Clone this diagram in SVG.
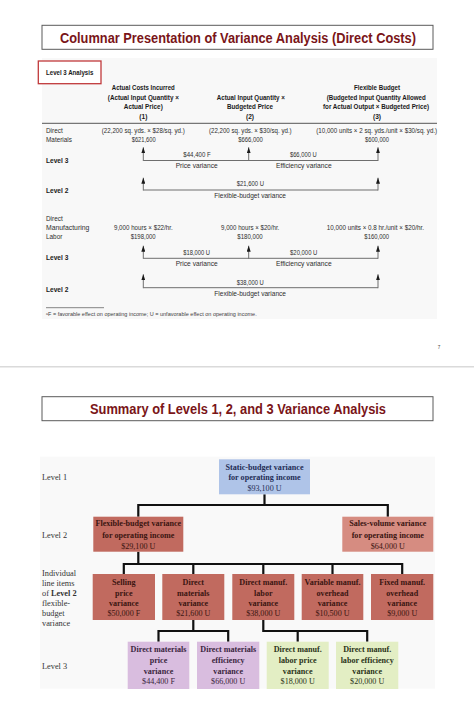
<svg xmlns="http://www.w3.org/2000/svg" width="474" height="711" viewBox="0 0 474 711">
<style>
.title{font-family:"Liberation Sans Narrow","Liberation Sans",Arial,sans-serif;font-weight:bold;font-size:14.5px;fill:#7a1518;text-anchor:middle}
.h{font-family:"Liberation Sans Narrow","Liberation Sans",Arial,sans-serif;font-weight:bold;font-size:6.6px;fill:#1a1a1a;text-anchor:middle}
.r{font-family:"Liberation Sans Narrow","Liberation Sans",Arial,sans-serif;font-size:6.4px;fill:#2e2e2e;text-anchor:middle}
.rl{font-family:"Liberation Sans Narrow","Liberation Sans",Arial,sans-serif;font-size:6.4px;fill:#2e2e2e}
.lv{font-family:"Liberation Sans Narrow","Liberation Sans",Arial,sans-serif;font-weight:bold;font-size:6.6px;fill:#1a1a1a}
.fn{font-family:"Liberation Sans Narrow","Liberation Sans",Arial,sans-serif;font-size:4.6px;fill:#444}
.al{stroke:#6e6e6e;stroke-width:1;fill:none}
.av{stroke:#6e6e6e;stroke-width:1;fill:none;marker-end:url(#ah)}
.sl{font-family:"Liberation Serif","DejaVu Serif",serif;font-size:8.3px;fill:#333333}
.b{font-family:"Liberation Serif","DejaVu Serif",serif;font-size:8.1px;text-anchor:middle;font-weight:bold}
.v{font-family:"Liberation Serif","DejaVu Serif",serif;font-size:8.1px;text-anchor:middle}
.blue{fill:#afc4e8}
.red{fill:#c16a5f}
.red2{fill:#d68c81}
.pur{fill:#d9bddf}
.grn{fill:#e3eec4}
.tb{fill:#1f2d55}
.tr{fill:#3a1511}
.tp{fill:#3a2540}
.tg{fill:#2a3318}
.conn{stroke:#111111;stroke-width:2.2;fill:none}
</style>
<defs>
<marker id="ah" viewBox="0 0 6 4" markerWidth="6" markerHeight="4" refX="6" refY="2" orient="auto" markerUnits="userSpaceOnUse">
<path d="M0,0 L6,2 L0,4 z" fill="#1a1a1a"/>
</marker>
</defs>
<rect width="474" height="711" fill="#ffffff"/>

<!-- Slide 1 -->
<g id="slide1">
<rect x="42" y="58" width="395" height="261" fill="#f8f8f8"/>
<g id="title1">
<rect x="42" y="25.3" width="391" height="24" fill="#ffffff" stroke="#5a5a5a" stroke-width="1"/>
<text class="title" x="238" y="42.7" textLength="356" lengthAdjust="spacingAndGlyphs">Columnar Presentation of Variance Analysis (Direct Costs)</text>
</g>
<g id="level3analysis">
<rect x="38.3" y="61" width="62.7" height="22.7" fill="#ffffff" stroke="#c0393b" stroke-width="1.3"/>
<text class="lv" x="46" y="75" textLength="47.3" lengthAdjust="spacingAndGlyphs">Level 3 Analysis</text>
</g>
<g id="col1-header">
<text class="h" x="143.3" y="90" textLength="63" lengthAdjust="spacingAndGlyphs">Actual Costs Incurred</text>
<text class="h" x="143.3" y="99.6" textLength="71" lengthAdjust="spacingAndGlyphs">(Actual Input Quantity ×</text>
<text class="h" x="143.3" y="109.3" textLength="39" lengthAdjust="spacingAndGlyphs">Actual Price)</text>
<text class="h" x="143.3" y="119.3">(1)</text>
</g>
<g id="col2-header">
<text class="h" x="250.8" y="99.6" textLength="68" lengthAdjust="spacingAndGlyphs">Actual Input Quantity ×</text>
<text class="h" x="250" y="109.3" textLength="46" lengthAdjust="spacingAndGlyphs">Budgeted Price</text>
<text class="h" x="250" y="119.3">(2)</text>
</g>
<g id="col3-header">
<text class="h" x="377" y="90" textLength="46" lengthAdjust="spacingAndGlyphs">Flexible Budget</text>
<text class="h" x="376.3" y="99.6" textLength="99" lengthAdjust="spacingAndGlyphs">(Budgeted Input Quantity Allowed</text>
<text class="h" x="376" y="109.3" textLength="106" lengthAdjust="spacingAndGlyphs">for Actual Output × Budgeted Price)</text>
<text class="h" x="377" y="119.3">(3)</text>
</g>
<line x1="42" y1="123.3" x2="437" y2="123.3" stroke="#555" stroke-width="1"/>

<g id="dm-row">
<text class="rl" x="46" y="133">Direct</text>
<text class="rl" x="46" y="141.5">Materials</text>
<text class="r" x="143.3" y="133" textLength="83" lengthAdjust="spacingAndGlyphs">(22,200 sq. yds. × $28/sq. yd.)</text>
<text class="r" x="143.7" y="141.5" textLength="24" lengthAdjust="spacingAndGlyphs">$621,600</text>
<text class="r" x="250.3" y="133" textLength="82.7" lengthAdjust="spacingAndGlyphs">(22,200 sq. yds. × $30/sq. yd.)</text>
<text class="r" x="250.5" y="141.5" textLength="24.7" lengthAdjust="spacingAndGlyphs">$666,000</text>
<text class="r" x="376.7" y="133" textLength="121" lengthAdjust="spacingAndGlyphs">(10,000 units × 2 sq. yds./unit × $30/sq. yd.)</text>
<text class="r" x="377" y="141.5" textLength="24" lengthAdjust="spacingAndGlyphs">$600,000</text>
</g>
<g id="dm-level3">
<text class="lv" x="46" y="163">Level 3</text>
<text class="r" x="197" y="156.5" textLength="27.3" lengthAdjust="spacingAndGlyphs">$44,400 F</text>
<text class="r" x="303.3" y="156.5" textLength="26.7" lengthAdjust="spacingAndGlyphs">$66,000 U</text>
<text class="r" x="196.7" y="168.3" textLength="42" lengthAdjust="spacingAndGlyphs">Price variance</text>
<text class="r" x="303.8" y="168.3" textLength="55.7" lengthAdjust="spacingAndGlyphs">Efficiency variance</text>
</g>
<g id="dm-level2">
<text class="lv" x="46" y="192.5">Level 2</text>
<text class="r" x="250.3" y="186.3" textLength="27.3" lengthAdjust="spacingAndGlyphs">$21,600 U</text>
<text class="r" x="250.2" y="198.3" textLength="71.7" lengthAdjust="spacingAndGlyphs">Flexible-budget variance</text>
</g>

<g id="dml-row">
<text class="rl" x="46" y="220.6">Direct</text>
<text class="rl" x="46" y="229.6" textLength="43.3" lengthAdjust="spacingAndGlyphs">Manufacturing</text>
<text class="rl" x="46" y="239">Labor</text>
<text class="r" x="143.3" y="229.6" textLength="58.7" lengthAdjust="spacingAndGlyphs">9,000 hours × $22/hr.</text>
<text class="r" x="143.2" y="239" textLength="25" lengthAdjust="spacingAndGlyphs">$198,000</text>
<text class="r" x="250.2" y="229.6" textLength="58.3" lengthAdjust="spacingAndGlyphs">9,000 hours × $20/hr.</text>
<text class="r" x="250" y="239" textLength="25.4" lengthAdjust="spacingAndGlyphs">$180,000</text>
<text class="r" x="375.3" y="229.6" textLength="97.3" lengthAdjust="spacingAndGlyphs">10,000 units × 0.8 hr./unit × $20/hr.</text>
<text class="r" x="376.7" y="239" textLength="24.7" lengthAdjust="spacingAndGlyphs">$160,000</text>
</g>
<g id="dml-level3">
<text class="lv" x="46" y="259.7">Level 3</text>
<text class="r" x="196.7" y="255" textLength="26.7" lengthAdjust="spacingAndGlyphs">$18,000 U</text>
<text class="r" x="303.7" y="255" textLength="27.3" lengthAdjust="spacingAndGlyphs">$20,000 U</text>
<text class="r" x="196.7" y="265.6" textLength="42" lengthAdjust="spacingAndGlyphs">Price variance</text>
<text class="r" x="303.8" y="265.6" textLength="55.7" lengthAdjust="spacingAndGlyphs">Efficiency variance</text>
</g>
<g id="dml-level2">
<text class="lv" x="46" y="291.6">Level 2</text>
<text class="r" x="250.3" y="284.6" textLength="27" lengthAdjust="spacingAndGlyphs">$38,000 U</text>
<text class="r" x="250.2" y="295.6" textLength="71.7" lengthAdjust="spacingAndGlyphs">Flexible-budget variance</text>
</g>

<g id="variance-arrows">
<line class="al" x1="143.3" y1="160.5" x2="378" y2="160.5"/>
<line class="av" x1="143.3" y1="161" x2="143.3" y2="147.3"/>
<line class="av" x1="248.7" y1="161" x2="248.7" y2="147.3"/>
<line class="av" x1="378" y1="161" x2="378" y2="147.3"/>
<line class="al" x1="143.3" y1="190" x2="378" y2="190"/>
<line class="av" x1="143.3" y1="190.5" x2="143.3" y2="177.7"/>
<line class="av" x1="378" y1="190.5" x2="378" y2="177.7"/>
<line class="al" x1="143.3" y1="258.3" x2="378" y2="258.3"/>
<line class="av" x1="143.3" y1="258.8" x2="143.3" y2="245.7"/>
<line class="av" x1="248.7" y1="258.8" x2="248.7" y2="245.7"/>
<line class="av" x1="378" y1="258.8" x2="378" y2="245.7"/>
<line class="al" x1="143.3" y1="287.7" x2="378" y2="287.7"/>
<line class="av" x1="143.3" y1="288.2" x2="143.3" y2="274.3"/>
<line class="av" x1="378" y1="288.2" x2="378" y2="274.3"/>
</g>

<line x1="46" y1="307.7" x2="104" y2="307.7" stroke="#666" stroke-width="0.8"/>
<text class="fn" x="46" y="316" textLength="210.7" lengthAdjust="spacingAndGlyphs"><tspan font-size="3px" dy="-1.5">a</tspan><tspan dy="1.5">F = favorable effect on operating income; U = unfavorable effect on operating income.</tspan></text>
<text class="fn" x="439" y="348.5" text-anchor="middle" fill="#666">7</text>
</g>

<line x1="0" y1="366.7" x2="474" y2="366.7" stroke="#dadada" stroke-width="1.5"/>

<!-- Slide 2 -->
<g id="slide2">
<rect x="40" y="456.7" width="395" height="232" fill="#f9f9f9"/>
<g id="title2">
<rect x="42" y="396.7" width="391" height="24" fill="#ffffff" stroke="#5a5a5a" stroke-width="1"/>
<text class="title" x="238" y="414.3" textLength="296" lengthAdjust="spacingAndGlyphs">Summary of Levels 1, 2, and 3 Variance Analysis</text>
</g>
<g id="level-labels">
<text class="sl" x="42" y="480">Level 1</text>
<text class="sl" x="42" y="538">Level 2</text>
<text class="sl" x="42" y="576.3">Individual</text>
<text class="sl" x="42" y="586.3">line items</text>
<text class="sl" x="42" y="596.3">of <tspan font-weight="bold">Level 2</tspan></text>
<text class="sl" x="42" y="606.3">flexible-</text>
<text class="sl" x="42" y="616">budget</text>
<text class="sl" x="42" y="625.7">variance</text>
<text class="sl" x="42" y="669">Level 3</text>
</g>

<g id="connectors">
<path class="conn" d="M264.5,494.3 V505 M138.3,505 H387.8 M138.3,504 V516.7 M387.8,504 V516.7"/>
<path class="conn" d="M138.3,551.7 V564 M123.8,564 H402.2 M123.8,563 V574 M193.3,563 V574 M263.3,563 V574 M332.5,563 V574 M402.2,563 V574"/>
<path class="conn" d="M193.3,620 V631 M158.5,631 H228.2 M158.5,630 V641.7 M228.2,630 V641.7"/>
<path class="conn" d="M263.3,620 V631 H367.2 M297.7,630 V641.7 M367.2,630 V641.7"/>
</g>

<g id="static-budget">
<rect class="blue" x="219" y="459.3" width="91" height="35"/>
<text class="b tb" x="264.5" y="469.7">Static-budget variance</text>
<text class="b tb" x="264.5" y="480.3">for operating income</text>
<text class="v tb" x="264.5" y="491">$93,100 U</text>
</g>
<g id="flexible-budget">
<rect class="red" x="93.3" y="516.7" width="90" height="35"/>
<text class="b tr" x="138.3" y="526.3">Flexible-budget variance</text>
<text class="b tr" x="138.3" y="537.5">for operating income</text>
<text class="v tr" x="138.3" y="548.5">$29,100 U</text>
</g>
<g id="sales-volume">
<rect class="red2" x="342.3" y="516.7" width="91" height="35"/>
<text class="b tr" x="387.8" y="526.3">Sales-volume variance</text>
<text class="b tr" x="387.8" y="537.5">for operating income</text>
<text class="v tr" x="387.8" y="548.5">$64,000 U</text>
</g>

<g id="selling-price">
<rect class="red" x="92.7" y="574" width="62.3" height="46"/>
<text class="b tr" x="123.8" y="584.7">Selling</text>
<text class="b tr" x="123.8" y="595.5">price</text>
<text class="b tr" x="123.8" y="605.7">variance</text>
<text class="v tr" x="123.8" y="615.9">$50,000 F</text>
</g>
<g id="direct-materials">
<rect class="red" x="162.3" y="574" width="62" height="46"/>
<text class="b tr" x="193.3" y="584.7">Direct</text>
<text class="b tr" x="193.3" y="595.5">materials</text>
<text class="b tr" x="193.3" y="605.7">variance</text>
<text class="v tr" x="193.3" y="615.9">$21,600 U</text>
</g>
<g id="direct-labor">
<rect class="red" x="232.3" y="574" width="62" height="46"/>
<text class="b tr" x="263.3" y="584.7">Direct manuf.</text>
<text class="b tr" x="263.3" y="595.5">labor</text>
<text class="b tr" x="263.3" y="605.7">variance</text>
<text class="v tr" x="263.3" y="615.9">$38,000 U</text>
</g>
<g id="variable-overhead">
<rect class="red" x="301.7" y="574" width="61.6" height="46"/>
<text class="b tr" x="332.5" y="584.7">Variable manuf.</text>
<text class="b tr" x="332.5" y="595.5">overhead</text>
<text class="b tr" x="332.5" y="605.7">variance</text>
<text class="v tr" x="332.5" y="615.9">$10,500 U</text>
</g>
<g id="fixed-overhead">
<rect class="red" x="371" y="574" width="62.3" height="46"/>
<text class="b tr" x="402.2" y="584.7">Fixed manuf.</text>
<text class="b tr" x="402.2" y="595.5">overhead</text>
<text class="b tr" x="402.2" y="605.7">variance</text>
<text class="v tr" x="402.2" y="615.9">$9,000 U</text>
</g>

<g id="dm-price">
<rect class="pur" x="127.7" y="641.7" width="61.6" height="47.3"/>
<text class="b tp" x="158.5" y="652.3">Direct materials</text>
<text class="b tp" x="158.5" y="663">price</text>
<text class="b tp" x="158.5" y="674">variance</text>
<text class="v tp" x="158.5" y="684.3">$44,400 F</text>
</g>
<g id="dm-efficiency">
<rect class="pur" x="197" y="641.7" width="62.3" height="47.3"/>
<text class="b tp" x="228.2" y="652.3">Direct materials</text>
<text class="b tp" x="228.2" y="663">efficiency</text>
<text class="b tp" x="228.2" y="674">variance</text>
<text class="v tp" x="228.2" y="684.3">$66,000 U</text>
</g>
<g id="dl-price">
<rect class="grn" x="266.7" y="641.7" width="62" height="47.3"/>
<text class="b tg" x="297.7" y="652.3">Direct manuf.</text>
<text class="b tg" x="297.7" y="663">labor price</text>
<text class="b tg" x="297.7" y="674">variance</text>
<text class="v tg" x="297.7" y="684.3">$18,000 U</text>
</g>
<g id="dl-efficiency">
<rect class="grn" x="336" y="641.7" width="62.3" height="47.3"/>
<text class="b tg" x="367.2" y="652.3">Direct manuf.</text>
<text class="b tg" x="367.2" y="663">labor efficiency</text>
<text class="b tg" x="367.2" y="674">variance</text>
<text class="v tg" x="367.2" y="684.3">$20,000 U</text>
</g>
</g>
</svg>
